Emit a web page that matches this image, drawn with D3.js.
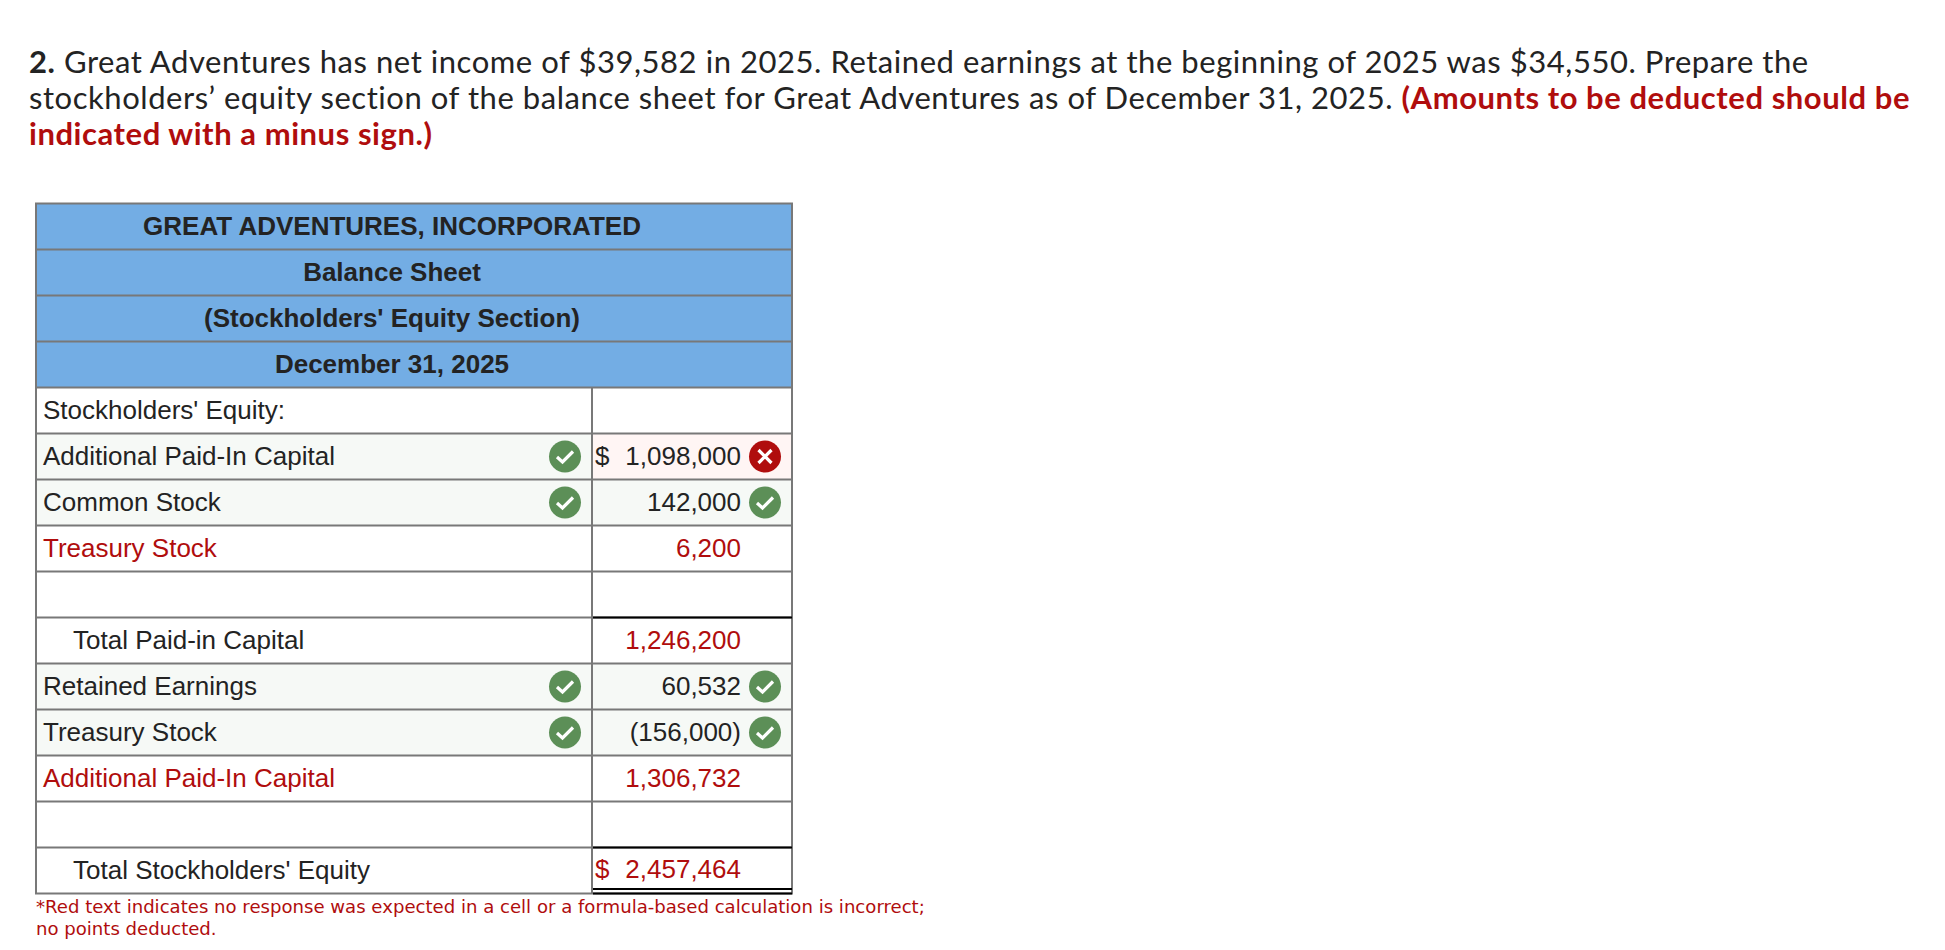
<!DOCTYPE html>
<html>
<head>
<meta charset="utf-8">
<script src="https://cdn.jsdelivr.net/npm/d3@7"></script>
<style>
  html, body { margin: 0; padding: 0; background: #fff; }
  svg { display: block; }
</style>
</head>
<body>
<script>
var question = [
  [['2.', 'bold'], [' Great Adventures has net income of $39,582 in 2025. Retained earnings at the beginning of 2025 was $34,550. Prepare the', 'plain']],
  [['stockholders\u2019 equity section of the balance sheet for Great Adventures as of December 31, 2025. ', 'plain'], ['(Amounts to be deducted should be', 'alert']],
  [['indicated with a minus sign.)', 'alert']]
]
var headers = ['GREAT ADVENTURES, INCORPORATED', 'Balance Sheet', "(Stockholders' Equity Section)", 'December 31, 2025']
var labels = ["Stockholders' Equity:", 'Additional Paid-In Capital', 'Common Stock', 'Treasury Stock', '', 'Total Paid-in Capital', 'Retained Earnings', 'Treasury Stock', 'Additional Paid-In Capital', '', "Total Stockholders' Equity"]
var values = ['', '1,098,000', '142,000', '6,200', '', '1,246,200', '60,532', '(156,000)', '1,306,732', '', '2,457,464']
var dollars = [false, true, false, false, false, false, false, false, false, false, true]
var indented = [false, false, false, false, false, true, false, false, false, false, true]
var labelRed = [false, false, false, true, false, false, false, false, true, false, false]
var valueRed = [false, false, false, true, false, true, false, false, true, false, true]
var labelMarks = ['', 'ok', 'ok', '', '', '', 'ok', 'ok', '', '', '']
var valueMarks = ['', 'bad', 'ok', '', '', '', 'ok', 'ok', '', '', '']
var topRuled = [5, 10]
var note = ['*Red text indicates no response was expected in a cell or a formula-based calculation is incorrect;', 'no points deducted.']

var ink = '#232323'
var red = '#b00d0d'
var green = '#5c8f57'
var grey = '#787878'

var svg = d3.select('body').append('svg')
  .attr('width', 1945)
  .attr('height', 950)

// question text
svg.append('g').selectAll('text')
  .data(question)
  .join('text')
  .attr('x', 29)
  .attr('y', function (d, i) { return 72.5 + i * 36 })
  .attr('font-family', 'Lato')
  .attr('font-size', 31)
  .attr('letter-spacing', 0.55)
  .attr('xml:space', 'preserve')
  .selectAll('tspan')
  .data(function (d) { return d })
  .join('tspan')
  .attr('font-weight', function (d) { return d[1] === 'plain' ? 400 : 700 })
  .attr('fill', function (d) { return d[1] === 'alert' ? red : ink })
  .text(function (d) { return d[0] })

var rowKeys = d3.range(headers.length + labels.length)
var tableTop = 203.5
var tableBottom = 893.5
var y = d3.scaleBand().domain(rowKeys).range([tableTop, tableBottom])
var left = 36
var split = 592
var right = 792
var bodyTop = y(headers.length)

// header bands
var head = svg.append('g').selectAll('g')
  .data(headers)
  .join('g')

head.append('rect')
  .attr('x', left)
  .attr('y', function (d, i) { return y(i) })
  .attr('width', right - left)
  .attr('height', y.bandwidth())
  .attr('fill', '#73ade4')

head.append('text')
  .attr('x', 392)
  .attr('y', function (d, i) { return y(i) + y.bandwidth() / 2 + 8.5 })
  .attr('text-anchor', 'middle')
  .attr('font-family', 'Liberation Sans')
  .attr('font-size', 26)
  .attr('font-weight', 700)
  .attr('fill', ink)
  .text(function (d) { return d })

// body rows
function rowY(i) { return y(i + headers.length) }
function rowMid(i) { return rowY(i) + y.bandwidth() / 2 }

var body = svg.append('g')

body.selectAll('rect.label-bg')
  .data(labelMarks)
  .join('rect')
  .attr('class', 'label-bg')
  .attr('x', left)
  .attr('y', function (d, i) { return rowY(i) })
  .attr('width', split - left)
  .attr('height', y.bandwidth())
  .attr('fill', function (d) { return d === 'ok' ? '#f6f9f6' : '#fff' })

body.selectAll('rect.value-bg')
  .data(valueMarks)
  .join('rect')
  .attr('class', 'value-bg')
  .attr('x', split)
  .attr('y', function (d, i) { return rowY(i) })
  .attr('width', right - split)
  .attr('height', y.bandwidth())
  .attr('fill', function (d) { return d === 'ok' ? '#f6f9f6' : d === 'bad' ? '#fff5f4' : '#fff' })

// grid
var lines = svg.append('g')
  .attr('stroke', grey)
  .attr('stroke-width', 2)

lines.selectAll('line.h')
  .data(d3.range(rowKeys.length + 1))
  .join('line')
  .attr('class', 'h')
  .attr('x1', left - 1)
  .attr('x2', right + 1)
  .attr('y1', function (d) { return tableTop + d * y.bandwidth() })
  .attr('y2', function (d) { return tableTop + d * y.bandwidth() })

lines.selectAll('line.v')
  .data([[left, tableTop], [right, tableTop], [split, bodyTop]])
  .join('line')
  .attr('class', 'v')
  .attr('x1', function (d) { return d[0] })
  .attr('x2', function (d) { return d[0] })
  .attr('y1', function (d) { return d[1] })
  .attr('y2', tableBottom)

// black rules in the value column
var rules = svg.append('g')
  .attr('stroke', '#000')
  .attr('stroke-width', 2)

rules.selectAll('line.total')
  .data(topRuled)
  .join('line')
  .attr('class', 'total')
  .attr('x1', split + 1)
  .attr('x2', right)
  .attr('y1', function (d) { return rowY(d) })
  .attr('y2', function (d) { return rowY(d) })

rules.selectAll('line.double')
  .data([889, 893.5])
  .join('line')
  .attr('class', 'double')
  .attr('x1', split + 1)
  .attr('x2', right)
  .attr('y1', function (d) { return d })
  .attr('y2', function (d) { return d })

// cell text
function cellText(cls, data) {
  return svg.append('g')
    .attr('font-family', 'Liberation Sans')
    .attr('font-size', 26)
    .selectAll('text.' + cls)
    .data(data)
    .join('text')
    .attr('class', cls)
}

cellText('label', labels)
  .attr('x', function (d, i) { return indented[i] ? 73 : 43 })
  .attr('y', function (d, i) { return rowMid(i) + 8.5 })
  .attr('fill', function (d, i) { return labelRed[i] ? red : ink })
  .text(function (d) { return d })

// last row's amount sits a little higher than its label
function valueY(i) { return rowMid(i) + (i === values.length - 1 ? 7 : 8.5) }

cellText('value', values)
  .attr('x', 741)
  .attr('y', function (d, i) { return valueY(i) })
  .attr('text-anchor', 'end')
  .attr('fill', function (d, i) { return valueRed[i] ? red : ink })
  .text(function (d) { return d })

cellText('dollar', values.filter(function (d, i) { return dollars[i] }))
  .attr('x', 595)
  .attr('y', function (d) { return valueY(values.indexOf(d)) })
  .attr('fill', function (d) { return valueRed[values.indexOf(d)] ? red : ink })
  .text('$')

// check and cross badges
function badges(marks, cx) {
  var g = svg.append('g').selectAll('g')
    .data(marks.map(function (m, i) { return { mark: m, row: i } }).filter(function (d) { return d.mark }))
    .join('g')
    .attr('transform', function (d) { return 'translate(' + cx + ',' + rowMid(d.row) + ')' })

  g.append('circle')
    .attr('r', 16)
    .attr('fill', function (d) { return d.mark === 'ok' ? green : red })

  g.append('path')
    .attr('d', function (d) { return d.mark === 'ok' ? 'M-8,0.5L-2.5,5.5L8,-5' : 'M-6.5,-6.5L6.5,6.5M6.5,-6.5L-6.5,6.5' })
    .attr('fill', 'none')
    .attr('stroke', '#fff')
    .attr('stroke-width', 3.2)
}

badges(labelMarks, 565)
badges(valueMarks, 765)

// footnote
svg.append('g').selectAll('text')
  .data(note)
  .join('text')
  .attr('x', 36)
  .attr('y', function (d, i) { return 913 + i * 21.5 })
  .attr('font-family', 'DejaVu Sans')
  .attr('font-size', 18.1)
  .attr('fill', red)
  .text(function (d) { return d })
</script>
</body>
</html>
